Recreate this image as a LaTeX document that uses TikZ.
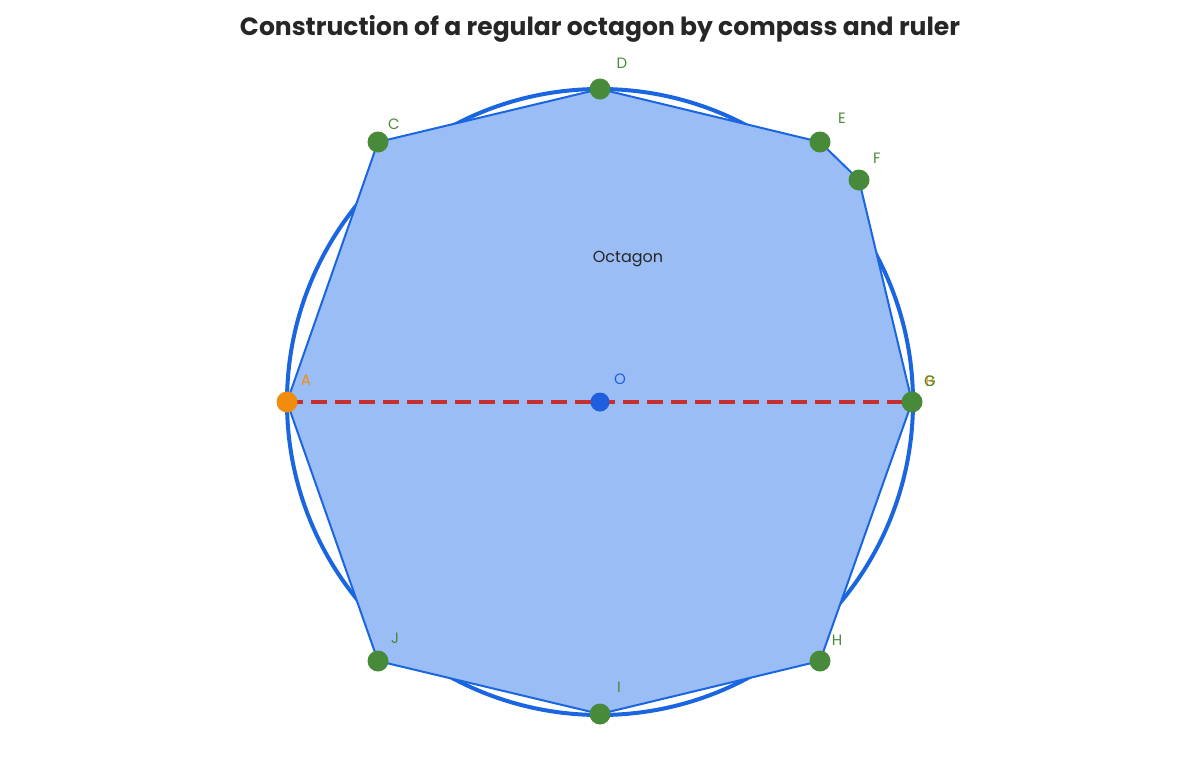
\documentclass[tikz,border=0pt]{standalone}
\usepackage{fontspec}
\setmainfont{Poppins}
\definecolor{edge}{HTML}{1A66E0}
\definecolor{fillc}{HTML}{9BBDF5}
\definecolor{ptg}{HTML}{468A3A}
\definecolor{ptor}{HTML}{F28C0F}
\definecolor{dred}{HTML}{C62F2F}
\definecolor{oblue}{HTML}{1E5FE0}
\begin{document}
\begin{tikzpicture}[x=1pt,y=-1pt,
  pt/.style={circle,fill=ptg,minimum size=21pt,inner sep=0pt},
  lab/.style={font=\fontsize{15}{15}\selectfont,text=ptg}]
\useasboundingbox (0,0) rectangle (1200,763);
\node[font=\bfseries\fontsize{25}{25}\selectfont,text=black!85] (title) at (600,29) {Construction of a regular octagon by compass and ruler};
\coordinate (O) at (600,402);
\coordinate (A) at (287,402);
\coordinate (C) at (378,142);
\coordinate (D) at (600,89);
\coordinate (E) at (820,142);
\coordinate (F) at (859,180);
\coordinate (G) at (912,402);
\coordinate (H) at (820,661);
\coordinate (I) at (600,714);
\coordinate (J) at (378,661);
\draw[edge,line width=4pt] (O) circle[radius=313];
\draw[edge,line width=2pt,fill=fillc] (A)--(C)--(D)--(E)--(F)--(G)--(H)--(I)--(J)--cycle;
\draw[dred,line width=4pt,dash pattern=on 16pt off 8pt] (A)--(G);
\node[font=\fontsize{16}{16}\selectfont,text=black!85] (oct) at (628,259) {Octagon};
\foreach \p in {C,D,E,F,G,H,I,J} \node[pt] (n\p) at (\p) {};
\node[circle,fill=ptor,minimum size=21pt,inner sep=0pt] (nA) at (A) {};
\node[circle,fill=oblue,minimum size=19pt,inner sep=0pt] (nO) at (O) {};
\node[lab,text=ptor] at (306,380) {A};
\node[lab,text=oblue] at (620,379) {O};
\node[lab,text=ptor] at (930,381) {B};
\node[lab] at (930,381) {G};
\node[lab] at (394,124) {C};
\node[lab] at (622,63) {D};
\node[lab] at (842,118) {E};
\node[lab] at (877,158) {F};
\node[lab] at (837,640) {H};
\node[lab] at (619,687) {I};
\node[lab] at (395,638) {J};
\end{tikzpicture}
\end{document}
